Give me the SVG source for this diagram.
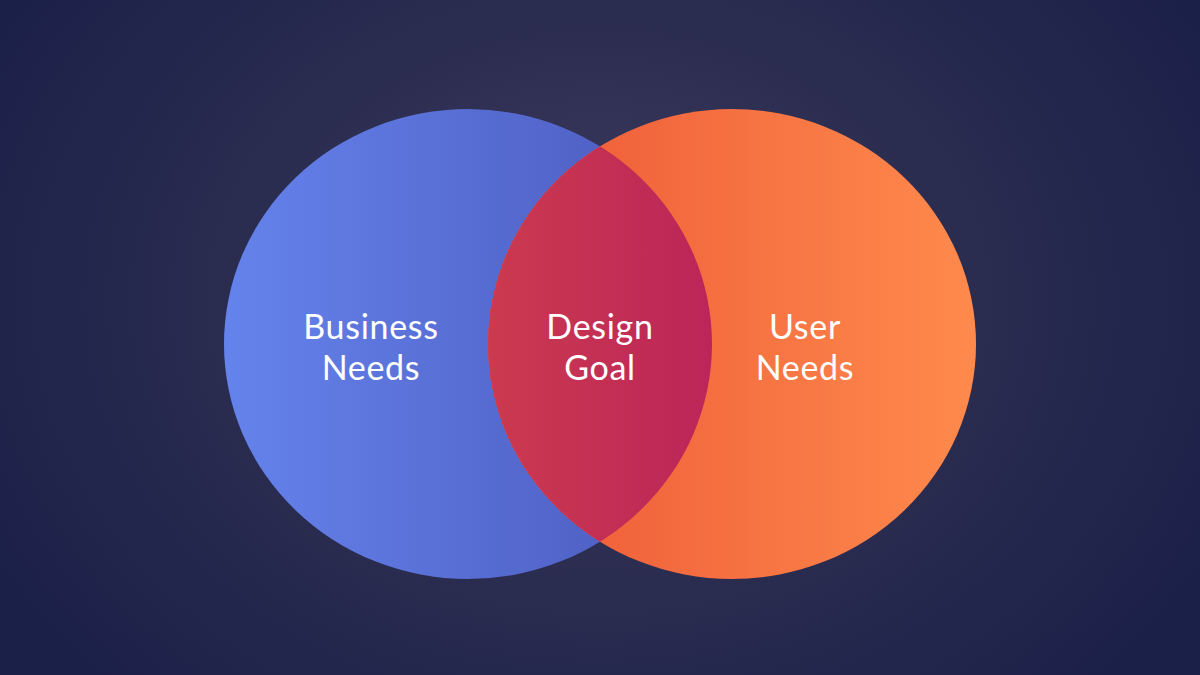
<svg xmlns="http://www.w3.org/2000/svg" width="1200" height="675" viewBox="0 0 1200 675">
<defs>
<radialGradient id="bg" cx="600" cy="300" r="700" gradientUnits="userSpaceOnUse" gradientTransform="translate(600 300) scale(1 0.8) translate(-600 -300)">
<stop offset="0" stop-color="#3e3c5f"/>
<stop offset="0.5" stop-color="#2b2d50"/>
<stop offset="1" stop-color="#1b2049"/>
</radialGradient>
<linearGradient id="gl" x1="224" y1="0" x2="712" y2="0" gradientUnits="userSpaceOnUse">
<stop offset="0" stop-color="#6583ec"/>
<stop offset="1" stop-color="#4a58bb"/>
</linearGradient>
<linearGradient id="gr" x1="488" y1="0" x2="976" y2="0" gradientUnits="userSpaceOnUse">
<stop offset="0" stop-color="#ec5737"/>
<stop offset="1" stop-color="#ff8a4c"/>
</linearGradient>
<linearGradient id="gm" x1="488" y1="0" x2="712" y2="0" gradientUnits="userSpaceOnUse">
<stop offset="0" stop-color="#cb3a4f"/>
<stop offset="1" stop-color="#bc2559"/>
</linearGradient>
<clipPath id="clipR"><ellipse cx="732" cy="344" rx="244" ry="235"/></clipPath>
<style>
.lbl{font-family:"Lato","Open Sans","Liberation Sans",sans-serif;font-size:34px;letter-spacing:0.7px;fill:#ffffff;text-anchor:middle}
</style>
</defs>
<rect width="1200" height="675" fill="url(#bg)"/>
<g id="business">
<ellipse cx="468" cy="344" rx="244" ry="235" fill="url(#gl)"/>
<text class="lbl" x="371" y="339">Business</text>
<text class="lbl" x="371" y="380">Needs</text>
</g>
<g id="user">
<ellipse cx="732" cy="344" rx="244" ry="235" fill="url(#gr)"/>
<text class="lbl" x="805" y="339">User</text>
<text class="lbl" x="805" y="380">Needs</text>
</g>
<g id="design">
<ellipse cx="468" cy="344" rx="244" ry="235" fill="url(#gm)" clip-path="url(#clipR)"/>
<text class="lbl" x="600" y="339">Design</text>
<text class="lbl" x="600" y="380">Goal</text>
</g>
<g id="connectors"/>
</svg>
